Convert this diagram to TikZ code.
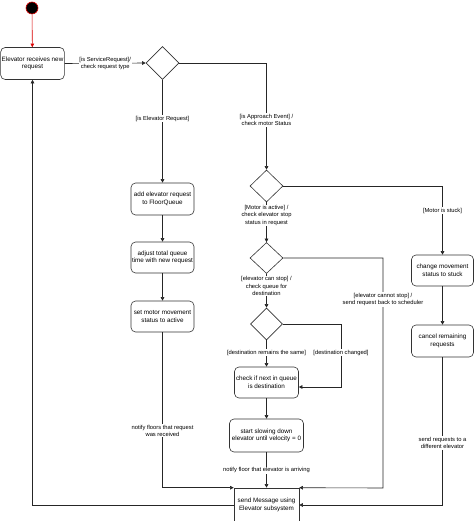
\documentclass[tikz,border=0pt]{standalone}
\usepackage{fontspec}
\setmainfont{Liberation Sans}
\usetikzlibrary{shapes.geometric,arrows.meta,calc}
\begin{document}
\begin{tikzpicture}[x=1pt,y=-1pt,
  font=\fontsize{6.3}{7.6}\selectfont,
  every path/.style={line width=0.6pt},
  conn/.style={draw=black!85,-{Triangle[width=3.6pt,length=3.6pt]}},
  redconn/.style={draw=red!85!black,-{Triangle[width=3.6pt,length=3.6pt]},fill=none},
  actbox/.style={draw=black!80,rounded corners=4.5pt,align=center,minimum width=63pt,minimum height=32pt,inner sep=1pt},
  plainbox/.style={draw=black!80,align=center,minimum width=65pt,minimum height=34pt,inner sep=1pt},
  choice/.style={draw=black!80,diamond,minimum width=33pt,minimum height=33pt,inner sep=0pt},
  lbl/.style={fill=white,align=center,inner sep=0.8pt,font=\fontsize{5.8}{7.3}\selectfont}
]
\useasboundingbox (0,0) rectangle (474,521);

\node[circle,fill=black,draw=red!85!black,minimum size=12pt,inner sep=0pt] (start) at (32,8) {};
\node[actbox] (recv) at (32.5,63.5) {Elevator receives new\\request};
\node[choice] (d1) at (162.5,63) {};
\node[actbox] (add) at (162.5,199) {add elevator request\\to FloorQueue};
\node[actbox,minimum height=31pt] (adj) at (162.5,257.5) {adjust total queue\\time with new request};
\node[actbox,minimum height=31pt] (mot) at (162.5,316.5) {set motor movement\\status to active};
\node[choice,minimum height=32pt] (d2) at (266.5,186) {};
\node[choice,minimum height=31pt] (d3) at (266.5,258) {};
\node[choice,minimum width=32pt,minimum height=32pt] (d4) at (266.5,324) {};
\node[actbox,minimum width=64pt,minimum height=31pt] (chk) at (266.5,382.5) {check if next in queue\\is destination};
\node[actbox,minimum width=74pt,minimum height=33pt] (slow) at (266.5,435.5) {start slowing down\\elevator until velocity = 0};
\node[plainbox] (send) at (266.5,505) {send Message using\\Elevator subsystem};
\node[actbox,minimum width=62pt,minimum height=31pt] (stuck) at (442.5,270.5) {change movement\\status to stuck};
\node[actbox,minimum width=62pt] (cancel) at (442.5,341) {cancel remaining\\requests};

\coordinate (c3) at (383,488);
\coordinate (c4) at (341,387);

\draw[redconn] (start) -- (recv);
\draw[conn] (recv.east) -- (d1.west) node[lbl,pos=0.5] {[is ServiceRequest]/\\check request type};
\draw[conn] (d1.south) -- (add.north) node[lbl,pos=0.38] {[is Elevator Request]};
\draw[conn] (d1.east) -| (d2.north) node[lbl,pos=0.767] {[is Approach Event] /\\check motor Status};
\draw[conn] (add) -- (adj);
\draw[conn] (adj) -- (mot);
\draw[conn] (mot.south) |- (send.north west) node[lbl,pos=0.317] {notify floors that request\\was received};
\draw[conn] (d2.east) -| (stuck.north) node[lbl,pos=0.68] {[Motor is stuck]};
\draw[conn] (d2.south) -- (d3.north) node[lbl,pos=0.33] {[Motor is active] /\\check elevator stop\\status in request};
\draw[conn] (d3.east) -| (c3) -- (send.north east);
\path (d3.east) -| (c3) node[lbl,pos=0.59] {[elevator cannot stop] /\\send request back to scheduler};
\draw[conn] (d3.south) -- (d4.north) node[lbl,pos=0.36] {[elevator can stop] /\\check queue for\\destination};
\draw[conn] (d4.east) -| (c4) -- (c4 -| chk.east);
\path (d4.east) -| (c4) node[lbl,pos=0.73] {[destination changed]};
\draw[conn] (d4.south) -- (chk.north) node[lbl,pos=0.48] {[destination remains the same]};
\draw[conn] (chk) -- (slow);
\draw[conn] (slow.south) -- (send.north) node[lbl,pos=0.5] {notify floor that elevator is arriving};
\draw[conn] (stuck) -- (cancel);
\draw[conn] (cancel.south) |- (send.east) node[lbl,pos=0.29] {send requests to a\\different elevator};
\draw[conn] (send.west) -| (recv.south);
\end{tikzpicture}
\end{document}
